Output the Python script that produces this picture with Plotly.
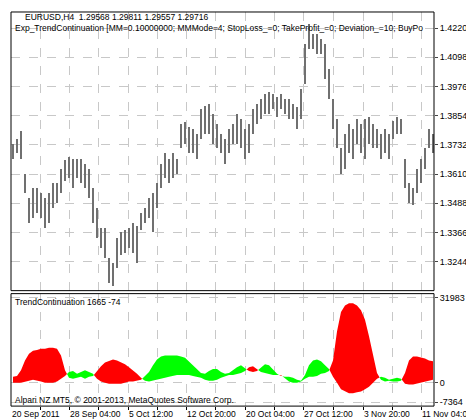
import plotly.graph_objects as go

W, H = 474, 419
high = [1.3737,1.3758,1.3791,1.3612,1.3508,1.3550,1.3550,1.3529,1.3508,1.3529,1.3571,1.3571,1.3633,1.3667,1.3683,1.3675,1.3675,1.3675,1.3654,1.3633,
        1.3550,1.3467,1.3383,1.3383,1.3258,1.3238,1.3342,1.3366,1.3375,1.3383,1.3404,1.3392,1.3446,1.3467,1.3508,1.3529,1.3571,1.3654,1.3696,1.3675,
        1.3696,1.3675,1.3821,1.3829,1.3808,1.3800,1.3779,1.3883,1.3896,1.3904,1.3862,1.3821,1.3779,1.3758,1.3800,1.3821,1.3862,1.3842,1.3800,1.3821,
        1.3883,1.3904,1.3925,1.3946,1.3954,1.3946,1.3933,1.3946,1.3925,1.3925,1.3904,1.3892,1.3967,1.4153,1.4237,1.4195,1.4195,1.4174,1.4153,1.4050,
        1.3925,1.3842,1.3717,1.3779,1.3821,1.3800,1.3842,1.3821,1.3842,1.3850,1.3821,1.3800,1.3779,1.3800,1.3779,1.3833,1.3850,1.3842,1.3675,1.3571,
        1.3550,1.3633,1.3675,1.3717,1.3800,1.3779]
low = [1.3675,1.3696,1.3675,1.3529,1.3404,1.3425,1.3446,1.3425,1.3383,1.3404,1.3467,1.3488,1.3529,1.3583,1.3592,1.3550,1.3592,1.3571,1.3550,1.3508,
       1.3404,1.3342,1.3300,1.3258,1.3155,1.3142,1.3217,1.3271,1.3279,1.3300,1.3279,1.3238,1.3375,1.3404,1.3425,1.3366,1.3467,1.3550,1.3592,1.3571,
       1.3592,1.3612,1.3717,1.3737,1.3696,1.3696,1.3675,1.3758,1.3779,1.3779,1.3737,1.3717,1.3696,1.3654,1.3696,1.3737,1.3737,1.3717,1.3675,1.3696,
       1.3779,1.3821,1.3842,1.3862,1.3862,1.3883,1.3850,1.3883,1.3862,1.3842,1.3842,1.3800,1.3842,1.3987,1.4133,1.4133,1.4112,1.4112,1.4008,1.3925,
       1.3800,1.3717,1.3612,1.3633,1.3696,1.3675,1.3737,1.3696,1.3675,1.3737,1.3717,1.3717,1.3675,1.3696,1.3675,1.3758,1.3779,1.3779,1.3550,1.3488,
       1.3480,1.3529,1.3571,1.3633,1.3717,1.3696]
line1 = [2.2,2.5,4.7,8.3,10.9,12.0,12.3,12.7,12.7,13.1,13.1,12.7,10.2,4.7,1.8,1.5,1.8,2.2,1.5,2.2,
         2.5,4.4,6.2,7.6,8.3,8.7,8.3,7.6,6.9,5.8,4.7,3.3,1.8,0.7,0.4,0.7,1.1,1.5,1.8,2.2,
         2.5,2.9,2.9,2.9,2.9,2.5,2.2,1.8,1.1,0.7,0.7,1.1,1.8,2.5,2.9,2.9,3.3,3.6,4.4,5.8,
         6.2,5.1,4.0,3.6,3.3,2.9,2.9,2.9,1.5,0.4,0.0,0.0,0.4,1.5,2.2,2.2,2.5,3.3,3.6,4.4,
         8.3,19.2,26.5,29.0,29.8,29.8,29.0,27.2,23.6,17.4,10.2,3.6,1.1,0.4,0.7,0.4,0.4,0.7,3.6,8.3,
         9.8,9.8,9.4,9.1,8.3,8.0]
line2 = [0,0,0,0.4,0.7,1.1,0.7,0.4,0,0,0,0.4,1.5,2.5,4.0,4.4,3.3,4.0,4.7,4.0,
         3.3,1.5,0.4,0,-0.4,-0.4,-0.4,-0.4,0,0.4,0.4,0.7,1.1,2.5,4.0,6.5,8.7,9.8,10.2,10.2,
         10.2,10.2,9.8,9.4,8.0,6.5,5.1,3.6,3.3,4.4,5.1,5.1,4.0,3.3,3.6,4.7,5.8,6.5,5.4,4.4,
         4.0,4.4,5.8,6.9,6.5,5.1,3.3,2.5,2.2,2.2,1.8,1.1,0.7,2.9,6.5,8.3,8.7,8.0,6.5,5.1,
         2.2,0,-2.5,-3.3,-4.0,-4.0,-3.6,-3.3,-2.5,-1.5,0,1.5,2.2,1.8,1.1,1.5,1.8,1.5,-0.4,-0.7,
         -0.7,-0.4,0,0.4,0.7,1.1]
line1 = [v * 1000 for v in line1]
line2 = [v * 1000 for v in line2]
price_ticks = [1.42200, 1.40980, 1.39760, 1.38540, 1.37320, 1.36100, 1.34880, 1.33660, 1.32440]
ind_ticks = [31983, 0, -7364]
grid_x = [6.75, 14, 21.25, 28.75, 36, 43.25, 50.5, 58, 65.25, 72.5, 80, 87.5, 94.75, 102]
date_labels = ["20 Sep 2011", "28 Sep 04:00", "5 Oct 12:00", "12 Oct 20:00", "20 Oct 04:00",
               "27 Oct 12:00", "3 Nov 20:00", "11 Nov 04:00"]
date_pos = [-0.5, 14, 28.75, 43.25, 58, 72.5, 87.5, 102]

n = len(high)
idx = list(range(n))
FONT = "Liberation Sans"
fig = go.Figure()
fig.add_trace(go.Bar(x=idx, y=[h - l for h, l in zip(high, low)], base=low, width=0.45,
                     marker=dict(color="#707070", line=dict(width=0)), xaxis="x", yaxis="y"))

def seg_traces():
    segs = []
    cur = None
    pts = []
    for i in range(n):
        s = line1[i] >= line2[i]
        if cur is None:
            cur = s
            pts = [(i, line1[i], line2[i])]
            continue
        if s != cur:
            d0 = line1[i-1] - line2[i-1]
            d1 = line1[i] - line2[i]
            t = d0 / (d0 - d1)
            xc = i - 1 + t
            yc = line1[i-1] + t * (line1[i] - line1[i-1])
            pts.append((xc, yc, yc))
            segs.append((cur, pts))
            pts = [(xc, yc, yc)]
            cur = s
        pts.append((i, line1[i], line2[i]))
    segs.append((cur, pts))
    return segs

for red, pts in seg_traces():
    xs = [p[0] for p in pts] + [p[0] for p in reversed(pts)]
    ys = [p[1] for p in pts] + [p[2] for p in reversed(pts)]
    fig.add_trace(go.Scatter(x=xs, y=ys, fill="toself", mode="lines", line=dict(width=0),
                             fillcolor="#ff0000" if red else "#00ff00", xaxis="x2", yaxis="y2"))

x0, x1 = 3 / W, 426 / W
xr = [-0.5, 105.25]
ax_common = dict(range=xr, tickvals=grid_x, showticklabels=False, showgrid=True,
                 gridcolor="#c8c8c8", griddash="dash", gridwidth=1, zeroline=False, fixedrange=True)
fig.update_layout(
    width=W, height=H, margin=dict(l=0, r=0, t=0, b=0), showlegend=False,
    paper_bgcolor="white", plot_bgcolor="white", bargap=0,
    font=dict(family=FONT, size=9, color="black"),
    xaxis=dict(domain=[x0, x1], anchor="y", **ax_common),
    xaxis2=dict(domain=[x0, x1], anchor="y2", ticks="outside", ticklen=3, tickcolor="black", **ax_common),
    yaxis=dict(domain=[(H - 283) / H, (H - 3) / H], range=[1.3123, 1.4287], side="right",
               tickvals=price_ticks, ticktext=[f"{v:.5f}" for v in price_ticks],
               ticks="outside", ticklen=3, showgrid=True, gridcolor="#c8c8c8", griddash="dash",
               zeroline=False, anchor="x"),
    yaxis2=dict(domain=[(H - 399) / H, (H - 286) / H], range=[-8800, 33436], side="right",
                tickvals=ind_ticks, ticktext=[str(v) for v in ind_ticks],
                ticks="outside", ticklen=3, showgrid=True, gridcolor="#c8c8c8", griddash="dash",
                zeroline=False, anchor="x2"),
)
for (ya, yb) in [(3, 283), (286, 399)]:
    fig.add_shape(type="rect", xref="paper", yref="paper", x0=x0, x1=x1,
                  y0=(H - yb) / H, y1=(H - ya) / H, line=dict(color="black", width=1))
for lab, p in zip(date_labels, date_pos):
    fig.add_annotation(x=p, y=(H - 407) / H, xref="x2", yref="paper", text=lab, showarrow=False,
                       xanchor="left", yanchor="middle", xshift=-1, font=dict(size=8.5))
texts = [("EURUSD,H4  1.29568 1.29811 1.29557 1.29716", 15, 8),
         ("Exp_TrendContinuation [MM=0.10000000; MMMode=4; StopLoss_=0; TakeProfit_=0; Deviation_=10; BuyPo", 5, 19),
         ("TrendContinuation 1665 -74", 5, 294),
         ("Alpari NZ MT5, © 2001-2013, MetaQuotes Software Corp.", 5, 393)]
for t, px, py in texts:
    fig.add_annotation(x=px / W, y=(H - py) / H, xref="paper", yref="paper", text=t, showarrow=False,
                       xanchor="left", yanchor="middle", font=dict(size=8.5))
fig.write_html("out.html")
